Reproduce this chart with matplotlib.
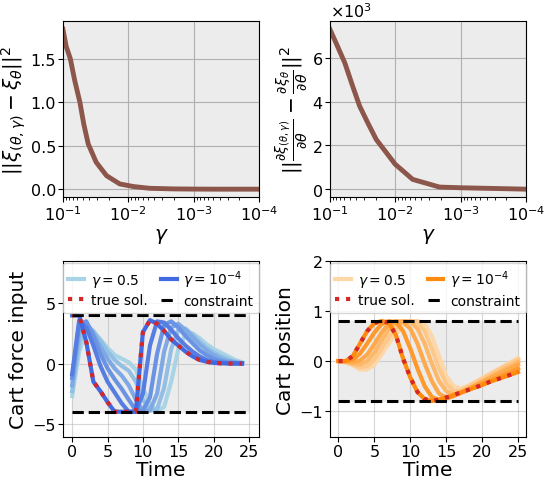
import numpy as np
import matplotlib
matplotlib.use('Agg')
import matplotlib.pyplot as plt
from matplotlib.colors import to_rgb

# ---------------- data ----------------
# top left : trajectory error vs gamma
gamma_traj = [1e-1, 8.9e-2, 7.7e-2, 6.6e-2, 5.5e-2, 4.8e-2, 4.1e-2, 3.1e-2, 2.15e-2,
              1.35e-2, 8.3e-3, 4.7e-3, 2e-3, 1e-3, 5e-4, 2e-4, 1e-4]
err_traj = [1.84, 1.64, 1.50, 1.25, 1.0, 0.75, 0.52, 0.31, 0.155,
            0.06, 0.03, 0.01, 0.003, 0.001, 0.0, 0.0, 0.0]

# top right : gradient error vs gamma
gamma_grad = [1e-1, 7.9e-2, 5.9e-2, 4.5e-2, 3.5e-2, 2.6e-2, 1.95e-2, 1.4e-2, 1e-2,
              7.5e-3, 5.4e-3, 3.5e-3, 2.1e-3, 1e-3, 5e-4, 2e-4, 1e-4]
err_grad = [7300, 6620, 5760, 4720, 3790, 3000, 2270, 1710, 1140,
            820, 450, 290, 100, 70, 50, 25, 5]

# bottom left : cart force input (t = 0..24), lightest (gamma=0.5) -> darkest (gamma=1e-4)
time_u = np.arange(0, 25)
u_true = [4, 4, 1.8, -1.5, -2.3, -3.2, -4, -4, -4, -4, 2.6, 3.6, 3.3, 2.7, 2.0, 1.5,
          1.0, 0.6, 0.3, 0.15, 0.05, 0.02, 0, 0, 0]
u_g0 = [-2.7, 1.0, 2.9, 2.6, 2.0, 1.3, 0.7, 0.4, 0.1, -0.5, -2.0, -3.4, -3.9, -3.6, -1.5,
        1.2, 2.4, 2.5, 2.1, 1.6, 1.2, 0.9, 0.6, 0.3, 0.1]
u_g1 = [-2.3, 1.8, 3.2, 2.7, 1.9, 1.0, 0.3, -0.2, -0.6, -1.5, -3.0, -3.9, -3.8, -2.0, 1.2,
        2.8, 2.9, 2.4, 1.8, 1.3, 0.9, 0.6, 0.35, 0.15, 0.05]
u_g2 = [-1.8, 2.8, 3.4, 2.5, 1.4, 0.4, -0.4, -1.0, -1.8, -3.0, -3.9, -3.9, -2.5, 1.0, 3.0,
        3.3, 2.8, 2.2, 1.6, 1.1, 0.7, 0.4, 0.2, 0.1, 0.03]
u_g3 = [-1.2, 3.3, 3.5, 2.3, 0.8, -0.4, -1.3, -2.1, -3.0, -3.9, -3.9, -2.8, 0.8, 3.2, 3.5,
        3.0, 2.3, 1.7, 1.1, 0.7, 0.4, 0.2, 0.1, 0.05, 0]
u_g4 = [-0.9, 3.6, 3.0, 1.5, -0.2, -1.5, -2.4, -3.3, -4.0, -4.0, -2.5, 1.5, 3.5, 3.4, 2.8,
        2.1, 1.5, 1.0, 0.6, 0.3, 0.15, 0.07, 0.03, 0, 0]
u_g5 = u_true
u_curves = [u_g0, u_g1, u_g2, u_g3, u_g4, u_g5]
u_max = 4

# bottom right : cart position (t = 0..25)
time_x = np.arange(0, 26)
x_true = [0, 0, 0.1, 0.35, 0.6, 0.76, 0.8, 0.77, 0.52, 0.05, -0.33, -0.62, -0.76, -0.8,
          -0.77, -0.73, -0.68, -0.63, -0.58, -0.53, -0.48, -0.42, -0.37, -0.32, -0.27, -0.22]
x_g0 = [0, -0.03, -0.08, -0.17, -0.17, -0.07, 0.13, 0.35, 0.55, 0.72, 0.79, 0.8, 0.75, 0.5,
        0.1, -0.3, -0.5, -0.55, -0.5, -0.42, -0.34, -0.26, -0.18, -0.1, -0.02, 0.06]
x_g1 = [0, -0.02, -0.07, -0.12, -0.1, 0.03, 0.25, 0.48, 0.67, 0.78, 0.8, 0.78, 0.6, 0.25,
        -0.15, -0.45, -0.6, -0.6, -0.52, -0.44, -0.36, -0.28, -0.2, -0.12, -0.05, 0.03]
x_g2 = [0, -0.01, -0.05, -0.07, 0.0, 0.17, 0.41, 0.63, 0.77, 0.8, 0.79, 0.65, 0.35, -0.05,
        -0.4, -0.6, -0.67, -0.64, -0.57, -0.49, -0.41, -0.33, -0.25, -0.17, -0.1, -0.02]
x_g3 = [0, 0, -0.02, 0.01, 0.13, 0.34, 0.57, 0.75, 0.8, 0.78, 0.65, 0.35, -0.05, -0.4,
        -0.65, -0.73, -0.7, -0.63, -0.56, -0.49, -0.42, -0.35, -0.28, -0.21, -0.14, -0.07]
x_g4 = [0, 0, 0.03, 0.15, 0.35, 0.57, 0.74, 0.8, 0.78, 0.6, 0.25, -0.15, -0.5, -0.72,
        -0.78, -0.75, -0.7, -0.64, -0.58, -0.52, -0.46, -0.4, -0.34, -0.28, -0.22, -0.15]
x_g5 = x_true
x_curves = [x_g0, x_g1, x_g2, x_g3, x_g4, x_g5]
x_max = 0.8

t_constraint = [0, 25]
legend_labels = [r'$\gamma=0.5$', 'true sol.', r'$\gamma=10^{-4}$', 'constraint']

# ---------------- style ----------------
tick_fs = 11.5
label_fs = 14.5
legend_fs = 10
bg_grey = '#ececec'
brown = '#8c564b'

def gradient(c1, c2, n):
    a = np.array(to_rgb(c1))
    b = np.array(to_rgb(c2))
    return [tuple(a + (b - a) * k / (n - 1)) for k in range(n)]

blues = gradient('#a8d4e6', '#4169e1', len(u_curves))
oranges = gradient('#fdd7a8', '#ff8a0d', len(x_curves))

fig = plt.figure(figsize=(5.47, 4.81), dpi=100)
ax1 = fig.add_axes([0.115, 0.588, 0.3585, 0.366])
ax2 = fig.add_axes([0.603, 0.588, 0.3585, 0.366])
ax3 = fig.add_axes([0.115, 0.0894, 0.3585, 0.3656])
ax4 = fig.add_axes([0.603, 0.0894, 0.3585, 0.3656])

# top left
ax1.set_facecolor(bg_grey)
ax1.plot(gamma_traj, err_traj, color=brown, lw=3.5)
ax1.set_xscale('log')
ax1.set_xlim(1e-1, 1e-4)
ax1.set_yticks([0.0, 0.5, 1.0, 1.5])
ax1.set_xlabel(r'$\gamma$', fontsize=label_fs, labelpad=2)
ax1.set_ylabel(r'$||\xi_{(\theta,\gamma)} - \xi_\theta||^2$', fontsize=label_fs, labelpad=2)
ax1.grid(True)

# top right
ax2.set_facecolor(bg_grey)
ax2.plot(gamma_grad, err_grad, color=brown, lw=3.5)
ax2.set_xscale('log')
ax2.set_xlim(1e-1, 1e-4)
ax2.set_yticks([0, 2000, 4000, 6000])
ax2.ticklabel_format(axis='y', style='sci', scilimits=(0, 0), useMathText=True)
ax2.yaxis.get_offset_text().set_fontsize(tick_fs)
ax2.set_xlabel(r'$\gamma$', fontsize=label_fs, labelpad=2)
ax2.set_ylabel(r'$||\frac{\partial \xi_{(\theta,\gamma)}}{\partial \theta} - \frac{\partial \xi_\theta}{\partial \theta}||^2$',
               fontsize=label_fs, labelpad=2)
ax2.grid(True)

# bottom left
ax3.fill_between(t_constraint, -u_max, u_max, color=bg_grey, zorder=0)
hu = []
for u, c in zip(u_curves, blues):
    hu += ax3.plot(time_u, u, color=c, lw=3)
ht, = ax3.plot(time_u, u_true, ':', color='tab:red', lw=3)
hc, = ax3.plot(t_constraint, [u_max, u_max], '--', color='k', lw=2.2)
ax3.plot(t_constraint, [-u_max, -u_max], '--', color='k', lw=2.2)
ax3.set_ylim(-6.1, 8.5)
ax3.set_xlim(-1.3, 26.4)
ax3.set_xticks([0, 5, 10, 15, 20, 25])
ax3.set_yticks([-5, 0, 5])
ax3.set_xlabel('Time', fontsize=label_fs, labelpad=1)
ax3.set_ylabel('Cart force input', fontsize=label_fs, labelpad=3)
ax3.grid(True, alpha=0.5)
ax3.legend([hu[0], ht, hu[-1], hc], legend_labels,
           ncol=2, loc='upper center', fontsize=legend_fs, handlelength=1.15,
           borderaxespad=0.1, columnspacing=0.9, handletextpad=0.5, labelspacing=0.3)

# bottom right
ax4.fill_between(t_constraint, -x_max, x_max, color=bg_grey, zorder=0)
hx = []
for x, c in zip(x_curves, oranges):
    hx += ax4.plot(time_x, x, color=c, lw=3)
ht2, = ax4.plot(time_x, x_true, ':', color='tab:red', lw=3)
hc2, = ax4.plot(t_constraint, [x_max, x_max], '--', color='k', lw=2.2)
ax4.plot(t_constraint, [-x_max, -x_max], '--', color='k', lw=2.2)
ax4.set_ylim(-1.52, 2)
ax4.set_xlim(-1.2, 26.1)
ax4.set_xticks([0, 5, 10, 15, 20, 25])
ax4.set_yticks([-1, 0, 1, 2])
ax4.set_xlabel('Time', fontsize=label_fs, labelpad=1)
ax4.set_ylabel('Cart position', fontsize=label_fs, labelpad=3)
ax4.grid(True, alpha=0.5)
ax4.legend([hx[0], ht2, hx[-1], hc2], legend_labels,
           ncol=2, loc='upper center', fontsize=legend_fs, handlelength=1.15,
           borderaxespad=0.1, columnspacing=0.9, handletextpad=0.5, labelspacing=0.3)

for ax in [ax1, ax2, ax3, ax4]:
    ax.tick_params(labelsize=tick_fs, pad=1.5)

plt.savefig('out.png', dpi=100)
